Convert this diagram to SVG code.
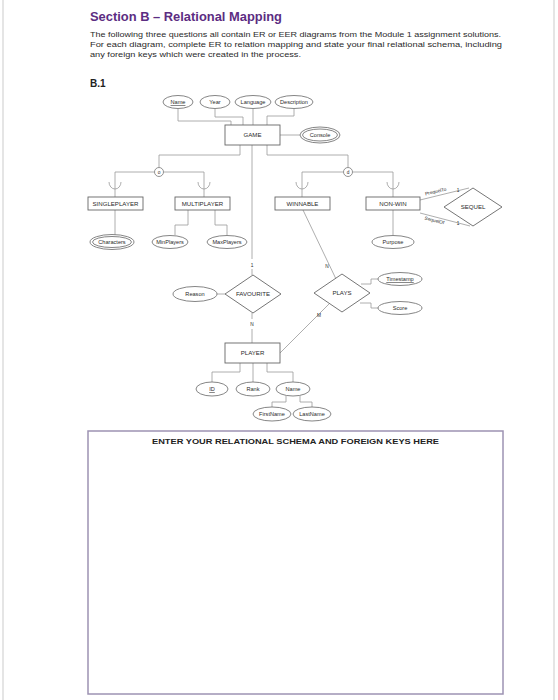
<svg xmlns="http://www.w3.org/2000/svg" width="558" height="700" viewBox="0 0 558 700">
<style>
text{font-family:"Liberation Sans",Arial,sans-serif;fill:#2a2a2a}
.ent{fill:#fff;stroke:#666;stroke-width:0.9}
.att{fill:#fff;stroke:#666;stroke-width:0.8}
.rel{fill:#fff;stroke:#666;stroke-width:0.9}
.ln{fill:none;stroke:#999;stroke-width:0.8}
.et{font-size:6.1px;text-anchor:middle}
.at{font-size:5.6px;text-anchor:middle}
.sm{font-size:4.8px;text-anchor:middle}
.u{text-decoration:underline}
</style>
<rect x="0" y="0" width="558" height="700" fill="#fff"/>
<line x1="3" y1="0" x2="3" y2="700" stroke="#ddd" stroke-width="1.5"/>
<line x1="554" y1="0" x2="554" y2="700" stroke="#ddd" stroke-width="1.5"/>

<text x="90" y="21" font-size="13.5" font-weight="bold" style="fill:#5c2d82" textLength="192" lengthAdjust="spacingAndGlyphs">Section B – Relational Mapping</text>
<text x="90" y="37" font-size="8" textLength="411" lengthAdjust="spacingAndGlyphs">The following three questions all contain ER or EER diagrams from the Module 1 assignment solutions.</text>
<text x="90" y="47" font-size="8" textLength="412" lengthAdjust="spacingAndGlyphs">For each diagram, complete ER to relation mapping and state your final relational schema, including</text>
<text x="90" y="56.5" font-size="8" textLength="211" lengthAdjust="spacingAndGlyphs">any foreign keys which were created in the process.</text>
<text x="90" y="87" font-size="10" font-weight="bold" style="fill:#222">B.1</text>

<g id="connectors">
<polyline class="ln" points="178,109 178,121 231,121 231,125"/>
<polyline class="ln" points="215,109 215,117 243,117 243,125"/>
<line class="ln" x1="253" y1="109" x2="253" y2="125"/>
<polyline class="ln" points="294,109 294,116 267,116 267,125"/>
<line class="ln" x1="280" y1="135" x2="300" y2="135"/>
<polyline class="ln" points="240,145 240,155 159,155 159,167.5"/>
<polyline class="ln" points="267,145 267,155 348,155 348,167.5"/>
<line class="ln" x1="252" y1="145" x2="252" y2="259"/>
<line class="ln" x1="252" y1="269" x2="252" y2="275"/>
<polyline class="ln" points="154.5,172 115,172 115,197"/>
<polyline class="ln" points="163.5,172 204,172 204,197"/>
<polyline class="ln" points="343.5,172 302,172 302,197"/>
<polyline class="ln" points="352.5,172 393,172 393,197"/>
<path class="ln" d="M109,182 A6,7 0 0 0 121,182"/>
<path class="ln" d="M198,182 A6,7 0 0 0 210,182"/>
<path class="ln" d="M296,182 A6,7 0 0 0 308,182"/>
<path class="ln" d="M387,182 A6,7 0 0 0 399,182"/>
<line class="ln" x1="115" y1="210" x2="115" y2="235"/>
<polyline class="ln" points="188,210 188,225 175,225 175,235"/>
<polyline class="ln" points="215,210 215,225 227,225 227,235"/>
<line class="ln" x1="393" y1="210" x2="393" y2="235"/>
<line class="ln" x1="420" y1="200" x2="469" y2="188"/>
<line class="ln" x1="420" y1="213" x2="470" y2="226"/>
<line class="ln" x1="303" y1="210" x2="336" y2="279"/>
<polyline class="ln" points="361,284 371,284 371,279 378,279"/>
<polyline class="ln" points="360,303 371,303 371,308 378,308"/>
<line class="ln" x1="217" y1="294" x2="225" y2="294"/>
<line class="ln" x1="252" y1="313" x2="252" y2="319"/>
<line class="ln" x1="252" y1="329" x2="252" y2="343"/>
<line class="ln" x1="280" y1="353" x2="329" y2="304"/>
<polyline class="ln" points="240,363 240,372 212,372 212,382"/>
<line class="ln" x1="253" y1="363" x2="253" y2="382"/>
<polyline class="ln" points="267,363 267,372 293,372 293,382"/>
<polyline class="ln" points="286,396 286,402 272,402 272,407"/>
<polyline class="ln" points="300,396 300,402 312,402 312,407"/>
<text class="sm" x="252" y="266.5">1</text>
<text class="sm" x="252" y="326">N</text>
<text class="sm" x="327" y="268">N</text>
<text class="sm" x="319" y="317">M</text>
<text class="sm" x="436" y="193" transform="rotate(-13 436 193)" font-size="3.8">PrequelTo</text>
<text class="sm" x="458" y="192">1</text>
<text class="sm" x="434" y="222" transform="rotate(14 434 222)" font-size="3.8">SequelOf</text>
<text class="sm" x="458" y="225">1</text>
</g>

<g id="circle-o"><circle cx="159" cy="172" r="4.5" fill="#fff" stroke="#777" stroke-width="0.8"/><text class="sm" x="159" y="173.7">o</text></g>
<g id="circle-d"><circle cx="348" cy="172" r="4.5" fill="#fff" stroke="#777" stroke-width="0.8"/><text class="sm" x="348" y="173.7">d</text></g>

<g id="attr-name"><ellipse class="att" cx="178" cy="102" rx="15" ry="6.5"/><text class="at u" x="178" y="104">Name</text></g>
<g id="attr-year"><ellipse class="att" cx="215" cy="102" rx="15" ry="6.5"/><text class="at" x="215" y="104">Year</text></g>
<g id="attr-language"><ellipse class="att" cx="253" cy="102" rx="18" ry="6.5"/><text class="at" x="253" y="104">Language</text></g>
<g id="attr-description"><ellipse class="att" cx="294" cy="102" rx="19" ry="6.5"/><text class="at" x="294" y="104">Description</text></g>
<g id="game"><rect class="ent" x="225" y="125" width="55" height="20"/><text class="et" x="252.5" y="137.2">GAME</text></g>
<g id="attr-console"><ellipse class="att" cx="320" cy="135" rx="20" ry="8"/><ellipse class="att" cx="320" cy="135" rx="17.5" ry="6"/><text class="at" x="320" y="137">Console</text></g>

<g id="singleplayer"><rect class="ent" x="88" y="197" width="55" height="13"/><text class="et" x="115.5" y="205.7">SINGLEPLAYER</text></g>
<g id="multiplayer"><rect class="ent" x="175" y="197" width="55" height="13"/><text class="et" x="202.5" y="205.7">MULTIPLAYER</text></g>
<g id="winnable"><rect class="ent" x="275" y="197" width="55" height="13"/><text class="et" x="302.5" y="205.7">WINNABLE</text></g>
<g id="nonwin"><rect class="ent" x="366" y="197" width="54" height="13"/><text class="et" x="393" y="205.7">NON-WIN</text></g>
<g id="sequel"><polygon class="rel" points="473,188 502,207 473,226 444,207"/><text class="et" x="473" y="209.2">SEQUEL</text></g>

<g id="attr-characters"><ellipse class="att" cx="112" cy="242" rx="22" ry="7.5"/><ellipse class="att" cx="112" cy="242" rx="19.5" ry="5.5"/><text class="at" x="112" y="244">Characters</text></g>
<g id="attr-minplayers"><ellipse class="att" cx="170" cy="242" rx="18" ry="6.5"/><text class="at" x="170" y="244">MinPlayers</text></g>
<g id="attr-maxplayers"><ellipse class="att" cx="227" cy="242" rx="20" ry="6.5"/><text class="at" x="227" y="244">MaxPlayers</text></g>
<g id="attr-purpose"><ellipse class="att" cx="393" cy="242" rx="21" ry="6.5"/><text class="at" x="393" y="244">Purpose</text></g>

<g id="favourite"><polygon class="rel" points="253,275 281,294 253,313 225,294"/><text class="et" x="253" y="296.2">FAVOURITE</text></g>
<g id="attr-reason"><ellipse class="att" cx="195" cy="294" rx="22" ry="7.5"/><text class="at" x="195" y="296">Reason</text></g>
<g id="plays"><polygon class="rel" points="342,274 370,293 342,312 314,293"/><text class="et" x="342" y="295.2">PLAYS</text></g>
<g id="attr-timestamp"><ellipse class="att" cx="400" cy="279" rx="22" ry="6.5"/><text class="at u" x="400" y="281">Timestamp</text></g>
<g id="attr-score"><ellipse class="att" cx="400" cy="308" rx="22" ry="6.5"/><text class="at" x="400" y="310">Score</text></g>

<g id="player"><rect class="ent" x="225" y="343" width="55" height="20"/><text class="et" x="252.5" y="355.2">PLAYER</text></g>
<g id="attr-id"><ellipse class="att" cx="212" cy="389" rx="16" ry="7"/><text class="at u" x="212" y="391">ID</text></g>
<g id="attr-rank"><ellipse class="att" cx="253" cy="389" rx="17" ry="7"/><text class="at" x="253" y="391">Rank</text></g>
<g id="attr-pname"><ellipse class="att" cx="293" cy="389" rx="17" ry="7"/><text class="at" x="293" y="391">Name</text></g>
<g id="attr-firstname"><ellipse class="att" cx="272" cy="414" rx="19" ry="7"/><text class="at" x="272" y="416">FirstName</text></g>
<g id="attr-lastname"><ellipse class="att" cx="312" cy="414" rx="19" ry="7"/><text class="at" x="312" y="416">LastName</text></g>

<g id="answer-box">
<rect x="88" y="431" width="415" height="263" fill="#fff" stroke="#9d93b3" stroke-width="1.5"/>
<text x="295.5" y="444" font-size="8" font-weight="bold" text-anchor="middle" style="fill:#222" textLength="287" lengthAdjust="spacingAndGlyphs">ENTER YOUR RELATIONAL SCHEMA AND FOREIGN KEYS HERE</text>
</g>
</svg>
